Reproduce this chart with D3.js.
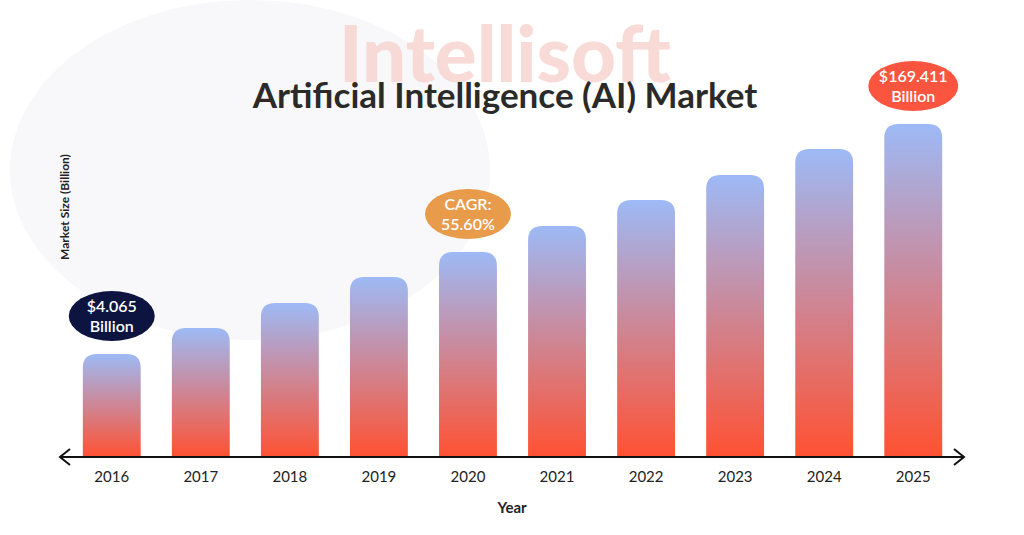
<!DOCTYPE html><html><head><script src="https://cdn.jsdelivr.net/npm/d3@7"></script>
<style>body{margin:0;background:#fff}svg{font-family:Lato,"Open Sans",sans-serif}</style></head><body>
<svg id="c" width="1024" height="535"></svg>
<script>
const years=["2016","2017","2018","2019","2020","2021","2022","2023","2024","2025"];
const barSize=[103,129,154,180,205,231,257,282,308,333]; // relative displayed size (no axis ticks)
const notes=[{year:"2016",lines:["$4.065","Billion"],color:"#0d1440"},
 {year:"2020",lines:["CAGR:","55.60%"],color:"#e99b4c"},
 {year:"2025",lines:["$169.411","Billion"],color:"#fb5540"}];
const svg=d3.select("#c");
svg.append("ellipse").attr("cx",250).attr("cy",170).attr("rx",240).attr("ry",170).attr("fill","#f8f8fa");
svg.append("text").attr("x",505).attr("y",82).attr("text-anchor","middle").attr("font-size",78).attr("font-weight",900)
 .attr("fill","#f7d2cc").attr("opacity",0.8).text("Intellisoft");
const defs=svg.append("defs");
const g=defs.append("linearGradient").attr("id","gr").attr("x1",0).attr("x2",0).attr("y1",0).attr("y2",1);
g.append("stop").attr("offset","0%").attr("stop-color","#9dbaf6");
g.append("stop").attr("offset","100%").attr("stop-color","#ff5132");
const x=d3.scaleBand().domain(years).range([65,960]).paddingInner(0.35).paddingOuter(0.2);
const base=457;
const y=d3.scaleLinear().domain([0,333]).range([base,124]);
svg.append("text").attr("x",505).attr("y",108).attr("text-anchor","middle").attr("font-size",35).attr("font-weight",700).attr("fill","#2a2a2a").text("Artificial Intelligence (AI) Market");
const r=14;
svg.selectAll(".bar").data(years).enter().append("path").attr("fill","url(#gr)").attr("d",(d,i)=>{
 const x0=x(d),w=x.bandwidth(),t=y(barSize[i]);
 return `M${x0},${base}V${t+r}Q${x0},${t} ${x0+r},${t}H${x0+w-r}Q${x0+w},${t} ${x0+w},${t+r}V${base}Z`;});
const ax=svg.append("g").attr("transform",`translate(0,${base})`).call(d3.axisBottom(x).tickSize(0).tickPadding(14));
ax.select(".domain").remove();
ax.selectAll("text").attr("font-size",15).attr("fill","#222").attr("font-family","Lato,sans-serif");
svg.append("line").attr("x1",60).attr("x2",964).attr("y1",base).attr("y2",base).attr("stroke","#111").attr("stroke-width",2);
svg.append("path").attr("d",`M70,${base-8}L60,${base}L70,${base+8}M954,${base-8}L964,${base}L954,${base+8}`).attr("fill","none").attr("stroke","#111").attr("stroke-width",2);
svg.append("text").attr("x",512).attr("y",513).attr("text-anchor","middle").attr("font-size",15).attr("font-weight",700).attr("fill","#222").text("Year");
svg.append("text").attr("transform","translate(69,207) rotate(-90)").attr("text-anchor","middle").attr("font-size",12).attr("font-weight",700).attr("fill","#222").text("Market Size (Billion)");
notes.forEach(n=>{
 const i=years.indexOf(n.year),cx=x(n.year)+x.bandwidth()/2,cy=y(barSize[i])-38;
 const gg=svg.append("g");
 gg.append("ellipse").attr("cx",cx).attr("cy",cy).attr("rx",n.year==="2025"?45:43).attr("ry",25).attr("fill",n.color);
 n.lines.forEach((l,k)=>gg.append("text").attr("x",cx).attr("y",cy-4+k*20).attr("text-anchor","middle").attr("font-size",16).attr("font-weight",600).attr("fill","#fff").text(l));
});
</script></body></html>
